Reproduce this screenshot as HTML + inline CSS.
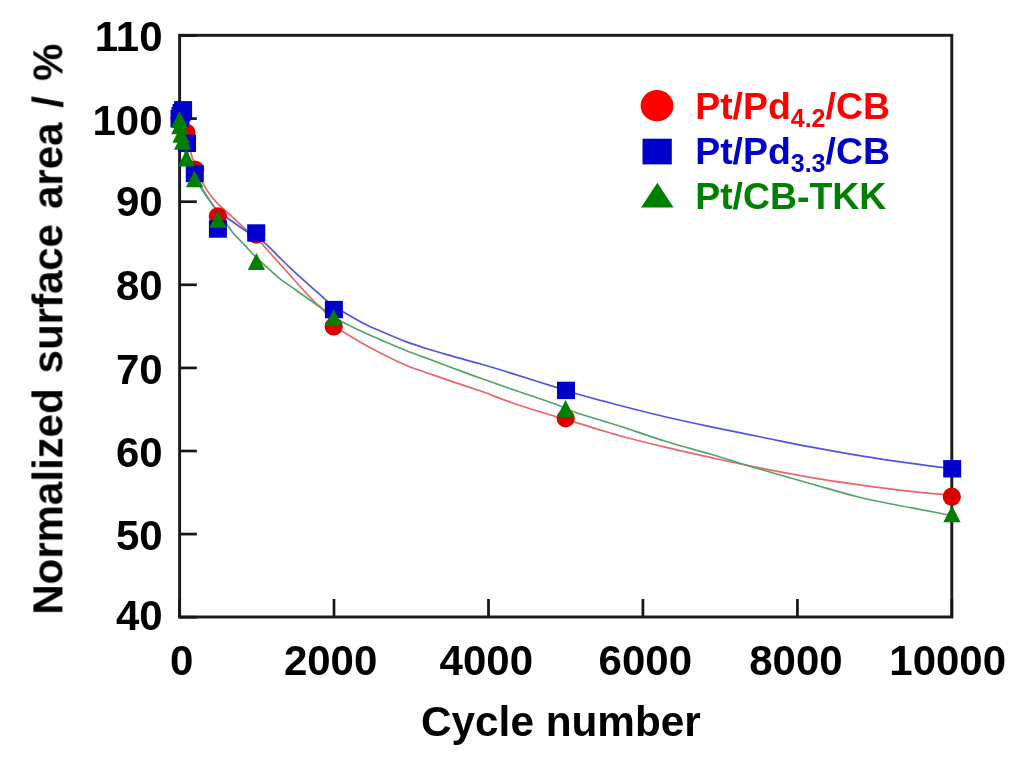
<!DOCTYPE html>
<html lang="en">
<head>
<meta charset="utf-8">
<title>Normalized surface area vs cycle number</title>
<style>
html,body{margin:0;padding:0;background:#fff;}
body{width:1024px;height:763px;overflow:hidden;}
svg{display:block;}
text{font-family:"Liberation Sans",Arial,Helvetica,sans-serif;font-weight:bold;}
.ax{font-size:42px;fill:#000;}
.lg{font-size:37.4px;}
.sub{font-size:25px;}
</style>
</head>
<body>
<svg width="1024" height="763" viewBox="0 0 1024 763">
<defs><filter id="soft" x="0" y="0" width="1024" height="763" filterUnits="userSpaceOnUse"><feGaussianBlur stdDeviation="0.5"/></filter></defs>
<rect x="0" y="0" width="1024" height="763" fill="#ffffff"/>
<g id="chart" filter="url(#soft)">

<g id="frame" fill="none" stroke="#1c1c1c" stroke-width="2.95">
<rect x="179.6" y="35.3" width="772.2" height="581.7"/>
</g>
<g id="ticks" stroke="#141414" stroke-width="2.7">
<line x1="179.6" y1="35.5" x2="196.8" y2="35.5"/>
<line x1="179.6" y1="118.6" x2="196.8" y2="118.6"/>
<line x1="179.6" y1="201.7" x2="196.8" y2="201.7"/>
<line x1="179.6" y1="284.8" x2="196.8" y2="284.8"/>
<line x1="179.6" y1="367.9" x2="196.8" y2="367.9"/>
<line x1="179.6" y1="451.0" x2="196.8" y2="451.0"/>
<line x1="179.6" y1="534.1" x2="196.8" y2="534.1"/>
<line x1="179.6" y1="617.2" x2="196.8" y2="617.2"/>
<line x1="179.6" y1="617.0" x2="179.6" y2="599.0"/>
<line x1="334.0" y1="617.0" x2="334.0" y2="599.0"/>
<line x1="488.5" y1="617.0" x2="488.5" y2="599.0"/>
<line x1="642.9" y1="617.0" x2="642.9" y2="599.0"/>
<line x1="797.4" y1="617.0" x2="797.4" y2="599.0"/>
<line x1="951.8" y1="617.0" x2="951.8" y2="599.0"/>
</g>
<g id="ylabels" class="ax" text-anchor="end">
<text x="162.6" y="50.9">110</text>
<text x="162.6" y="134.8">100</text>
<text x="162.6" y="216.2">90</text>
<text x="162.6" y="299.6">80</text>
<text x="162.6" y="383.5">70</text>
<text x="162.6" y="467.2">60</text>
<text x="162.6" y="549.8">50</text>
<text x="162.6" y="630.0">40</text>
</g>
<g id="xlabels" class="ax" text-anchor="middle">
<text x="181.6" y="674.6">0</text>
<text x="330.6" y="674.6">2000</text>
<text x="486.3" y="674.6">4000</text>
<text x="645.3" y="674.6">6000</text>
<text x="795.9" y="674.6">8000</text>
<text x="947.7" y="674.6">10000</text>
</g>
<text class="ax" text-anchor="middle" x="560.9" y="735.8" style="font-size:42.3px">Cycle number</text>
<text class="ax" text-anchor="middle" style="word-spacing:3.3px" transform="translate(62.4 329.2) rotate(-90)">Normalized surface area / %</text>
<g id="curves" fill="none" stroke-width="1.7" stroke-linecap="round" stroke-linejoin="round">
<path stroke="#ea666a" d="M179.6 118.4C180.9 120.5 185.4 125.2 187.3 131.0C189.2 136.8 190.0 148.1 191.0 153.0C192.0 157.9 192.6 157.9 193.3 160.7C194.0 163.4 193.4 165.8 195.0 169.5C196.6 173.2 200.1 178.7 202.7 183.0C205.3 187.3 207.8 191.7 210.6 195.4C213.4 199.1 216.7 202.5 219.5 205.4C222.3 208.3 223.1 208.4 227.7 212.6C232.3 216.8 242.3 226.4 247.2 230.7C252.0 235.0 254.3 236.2 256.8 238.5C259.3 240.8 258.5 240.1 262.4 244.4C266.3 248.7 274.5 257.9 280.1 264.1C285.7 270.3 290.6 276.0 295.9 281.8C301.1 287.6 306.7 293.9 311.6 299.0C316.5 304.1 321.5 307.5 325.2 312.1C328.9 316.7 330.4 323.1 333.7 326.5C337.0 329.9 340.1 329.9 344.9 332.8C349.7 335.7 356.4 340.1 362.6 343.6C368.8 347.1 375.1 350.4 382.3 354.0C389.5 357.6 398.0 361.9 405.9 365.2C413.8 368.5 421.6 370.9 429.5 373.7C437.4 376.5 444.7 379.0 453.1 381.9C461.5 384.8 469.8 387.2 480.0 390.8C490.2 394.4 501.3 399.1 514.1 403.5C526.9 407.9 546.4 413.7 557.0 417.0C567.6 420.3 567.8 420.1 577.8 423.1C587.8 426.1 602.4 430.9 617.1 435.0C631.8 439.1 650.6 443.7 666.1 447.4C681.6 451.1 696.3 454.2 710.0 457.3C723.7 460.4 731.1 462.3 748.1 465.7C765.1 469.1 792.6 474.4 811.7 477.7C830.8 481.0 845.6 483.0 862.5 485.3C879.4 487.6 899.8 490.1 913.3 491.7C926.8 493.3 936.9 493.9 943.3 494.7C949.7 495.5 950.4 496.4 951.8 496.7"/>
<path stroke="#5353e2" d="M179.6 118.6C180.2 117.1 181.9 105.7 183.1 109.8C184.3 113.9 186.1 135.3 187.0 143.3C187.9 151.3 187.6 154.1 188.3 158.0C189.1 161.9 190.4 164.4 191.5 167.0C192.6 169.6 193.3 170.2 194.8 173.5C196.3 176.8 197.3 181.5 200.6 187.1C203.9 192.7 211.3 202.9 214.5 207.2C217.7 211.4 217.9 210.8 220.0 212.6C222.1 214.3 222.6 214.5 227.1 217.7C231.6 220.9 242.2 228.6 247.2 231.9C252.1 235.2 253.6 235.7 256.8 237.8C260.0 239.9 262.2 240.7 266.4 244.4C270.6 248.1 276.4 254.6 282.0 260.0C287.6 265.4 292.5 270.1 299.7 276.7C306.9 283.2 319.5 294.4 325.2 299.3C330.9 304.2 331.1 304.0 334.0 306.0C336.9 308.0 337.7 308.7 342.5 311.5C347.3 314.3 356.0 319.5 362.6 322.9C369.2 326.3 375.1 328.7 382.3 331.8C389.5 334.9 398.0 338.7 405.9 341.6C413.8 344.6 421.6 347.0 429.5 349.5C437.4 352.0 444.7 354.0 453.1 356.4C461.5 358.8 469.8 360.9 480.0 363.8C490.2 366.8 501.3 370.1 514.1 374.1C526.9 378.1 546.9 384.4 557.0 387.6C567.1 390.8 564.9 390.3 574.9 393.2C584.9 396.1 601.9 400.8 617.1 404.8C632.3 408.8 650.6 413.4 666.1 417.0C681.6 420.6 694.2 423.3 710.0 426.6C725.8 429.9 743.8 433.6 760.8 437.0C777.8 440.4 794.8 444.0 811.7 447.2C828.7 450.4 845.6 453.4 862.5 456.1C879.4 458.9 899.8 461.8 913.3 463.7C926.8 465.6 936.9 466.6 943.3 467.5C949.7 468.4 950.4 468.6 951.8 468.8"/>
<path stroke="#52a568" d="M179.6 119.0C179.7 120.1 179.8 123.2 180.0 125.7C180.2 128.2 180.6 131.6 181.0 134.2C181.4 136.8 181.7 137.3 182.6 141.3C183.5 145.3 184.4 151.7 186.4 158.0C188.4 164.3 192.1 174.1 194.6 179.0C197.1 183.9 197.8 182.5 201.2 187.3C204.5 192.1 210.4 201.4 214.7 207.7C219.0 213.9 223.8 220.4 227.1 224.8C230.3 229.2 231.2 230.9 234.2 234.3C237.1 237.7 241.7 241.9 244.8 245.2C247.9 248.5 249.5 250.7 252.9 254.2C256.3 257.7 260.9 261.9 265.4 266.0C269.9 270.1 275.0 274.9 280.1 278.9C285.2 282.9 291.3 286.7 295.9 290.0C300.5 293.3 302.8 295.1 307.7 298.5C312.6 301.9 319.4 306.8 325.2 310.7C331.0 314.6 336.3 318.5 342.5 322.0C348.7 325.5 356.0 328.7 362.6 331.8C369.2 334.9 375.1 337.5 382.3 340.6C389.5 343.7 398.0 347.4 405.9 350.5C413.8 353.6 421.6 356.4 429.5 359.3C437.4 362.2 444.7 365.1 453.1 368.2C461.5 371.3 469.8 374.4 480.0 378.0C490.2 381.6 501.3 385.5 514.1 390.0C526.9 394.5 546.4 400.9 557.0 404.8C567.6 408.7 567.8 409.9 577.8 413.3C587.8 416.7 602.4 420.5 617.1 425.2C631.8 429.9 650.6 436.7 666.1 441.5C681.6 446.3 696.3 450.0 710.0 454.0C723.7 458.0 731.1 460.7 748.1 465.7C765.1 470.7 792.6 478.6 811.7 484.0C830.8 489.4 845.6 494.0 862.5 498.0C879.4 502.0 899.3 505.4 913.3 508.2C927.3 510.9 939.9 513.3 946.3 514.5C952.7 515.7 950.9 515.3 951.8 515.5"/>
</g>
<g id="m-red" fill="#dd0000">
<circle cx="179.6" cy="118.4" r="9.1"/>
<circle cx="186.4" cy="132.7" r="9.1"/>
<circle cx="195.0" cy="169.5" r="9.1"/>
<circle cx="217.9" cy="216.3" r="9.1"/>
<circle cx="256.2" cy="234.6" r="9.1"/>
<circle cx="333.7" cy="326.5" r="9.1"/>
<circle cx="565.7" cy="418.3" r="9.1"/>
<circle cx="951.8" cy="496.7" r="9.1"/>
</g>
<g id="m-blue" fill="#0000cc">
<rect x="170.5" y="109.9" width="18" height="17.4"/>
<rect x="171.4" y="107.0" width="18" height="17.4"/>
<rect x="172.6" y="104.0" width="18" height="17.4"/>
<rect x="174.1" y="101.1" width="18" height="17.4"/>
<rect x="178.0" y="134.6" width="18" height="17.4"/>
<rect x="185.8" y="164.8" width="18" height="17.4"/>
<rect x="208.9" y="220.3" width="18" height="17.4"/>
<rect x="247.2" y="224.3" width="18" height="17.4"/>
<rect x="324.9" y="300.9" width="18" height="17.4"/>
<rect x="557.0" y="381.7" width="18" height="17.4"/>
<rect x="943.2" y="460.1" width="18" height="17.4"/>
</g>
<g id="m-green" fill="#008000">
<polygon points="179.5,110.9 188.1,128.0 170.9,128.0"/>
<polygon points="179.8,117.2 188.4,134.2 171.2,134.2"/>
<polygon points="181.0,125.7 189.6,142.7 172.4,142.7"/>
<polygon points="182.6,132.8 191.2,149.8 174.0,149.8"/>
<polygon points="186.4,149.8 195.0,166.6 177.8,166.6"/>
<polygon points="194.6,170.4 203.2,187.2 186.0,187.2"/>
<polygon points="217.9,211.2 226.5,227.8 209.3,227.8"/>
<polygon points="256.4,252.9 265.0,269.9 247.8,269.9"/>
<polygon points="333.7,309.2 342.3,325.6 325.1,325.6"/>
<polygon points="565.6,399.9 574.2,417.0 557.0,417.0"/>
<polygon points="952.0,505.6 960.6,522.2 943.4,522.2"/>
</g>
<g id="legend">
<ellipse cx="657" cy="105.7" rx="16.4" ry="15.6" fill="#ff0000"/>
<rect x="642.5" y="138.7" width="29.3" height="25.7" fill="#0000cc"/>
<polygon points="657.4,182.7 673.6,207.5 641,207.5" fill="#008000"/>
<text class="lg" x="695.2" y="119" fill="#ff0000">Pt/Pd<tspan class="sub" dy="8">4.2</tspan><tspan dy="-8">/CB</tspan></text>
<text class="lg" x="695.2" y="164.3" fill="#0000cc">Pt/Pd<tspan class="sub" dy="8">3.3</tspan><tspan dy="-8">/CB</tspan></text>
<text class="lg" x="695.2" y="209.2" fill="#008000">Pt/CB-TKK</text>
</g>
</g>
</svg>
</body>
</html>
